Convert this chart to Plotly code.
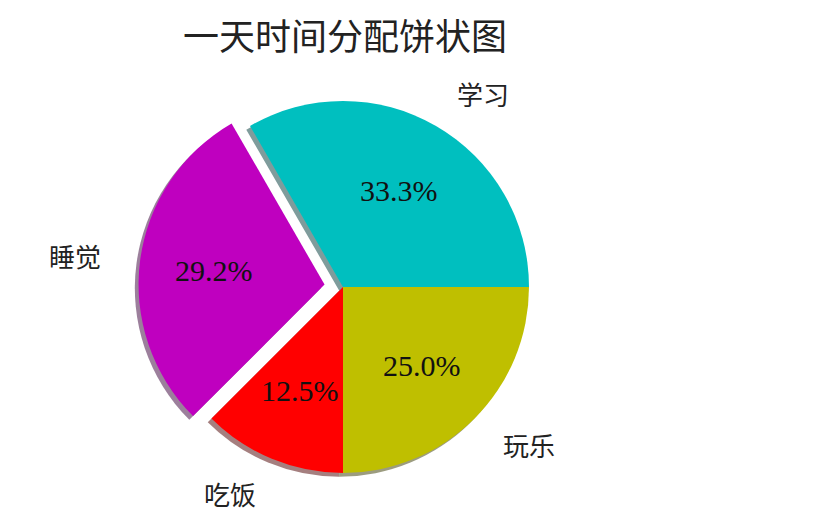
import math

import plotly.graph_objects as go

labels = ['学习', '睡觉', '吃饭', '玩乐']
hours = [8, 7, 3, 6]
colors = ['#00bfbf', '#bf00bf', '#ff0000', '#bfbf00']
explode = [0, 0.1, 0, 0]
title = '一天时间分配饼状图'

W, H = 814, 514
# the page body adds an 8px margin, so positions below are shifted by it
cx, cy, r = 335, 279, 186
shadow_off = 0.02 * r
# plotly counts clockwise from 12 o'clock; this puts the first slice at 3 o'clock going ccw
rotation = -30

cjk = 'Noto Sans CJK SC'


def domain(dx=0.0, dy=0.0):
    half = r * (1 + max(explode))
    return dict(x=[(cx + dx - half) / W, (cx + dx + half) / W],
                y=[1 - (cy + dy + half) / H, 1 - (cy + dy - half) / H])


def shade(c):
    c = c.lstrip('#')
    rgb = [int(c[i:i + 2], 16) for i in (0, 2, 4)]
    return 'rgba({},{},{},0.5)'.format(*[int(0.3 * v) for v in rgb])


fig = go.Figure()

# shadow, a little lower and to the left
fig.add_trace(go.Pie(
    labels=labels, values=hours, sort=False, direction='counterclockwise',
    rotation=rotation, pull=explode, textinfo='none', hoverinfo='skip',
    marker=dict(colors=[shade(c) for c in colors], line=dict(width=0)),
    domain=domain(-shadow_off, shadow_off), showlegend=False))

fig.add_trace(go.Pie(
    labels=labels, values=hours, sort=False, direction='counterclockwise',
    rotation=rotation, pull=explode, textinfo='none',
    marker=dict(colors=colors, line=dict(width=0)),
    domain=domain(), showlegend=False))

# labels (1.2 r) and percentages (0.6 r) like matplotlib's pie
total = float(sum(hours))
start = 0.0
annotations = []
for lab, v, ex in zip(labels, hours, explode):
    frac = v / total
    mid = math.radians((start + frac / 2) * 360)
    start += frac
    c, s = math.cos(mid), math.sin(mid)
    lx = cx + (ex + 1.2) * r * c
    ly = cy - (ex + 1.2) * r * s
    annotations.append(dict(
        x=lx / W, y=1 - ly / H, xref='paper', yref='paper', text=lab,
        showarrow=False, xanchor='left' if c > 0 else 'right', yanchor='middle',
        font=dict(family=cjk, size=26, color='#222')))
    px = cx + (ex + 0.6) * r * c
    py = cy - (ex + 0.6) * r * s
    annotations.append(dict(
        x=px / W, y=1 - py / H, xref='paper', yref='paper',
        text='{:.1f}%'.format(frac * 100), showarrow=False,
        xanchor='center', yanchor='middle',
        font=dict(family='Liberation Serif', size=30, color='#111')))

fig.update_layout(
    width=W, height=H,
    margin=dict(l=0, r=0, t=0, b=0),
    paper_bgcolor='white', plot_bgcolor='white',
    title=dict(text=title, x=337 / W, y=1 - 29 / H, xanchor='center',
               yanchor='middle', font=dict(family=cjk, size=36, color='#222')),
    annotations=annotations,
)

fig.write_html('out.html')
